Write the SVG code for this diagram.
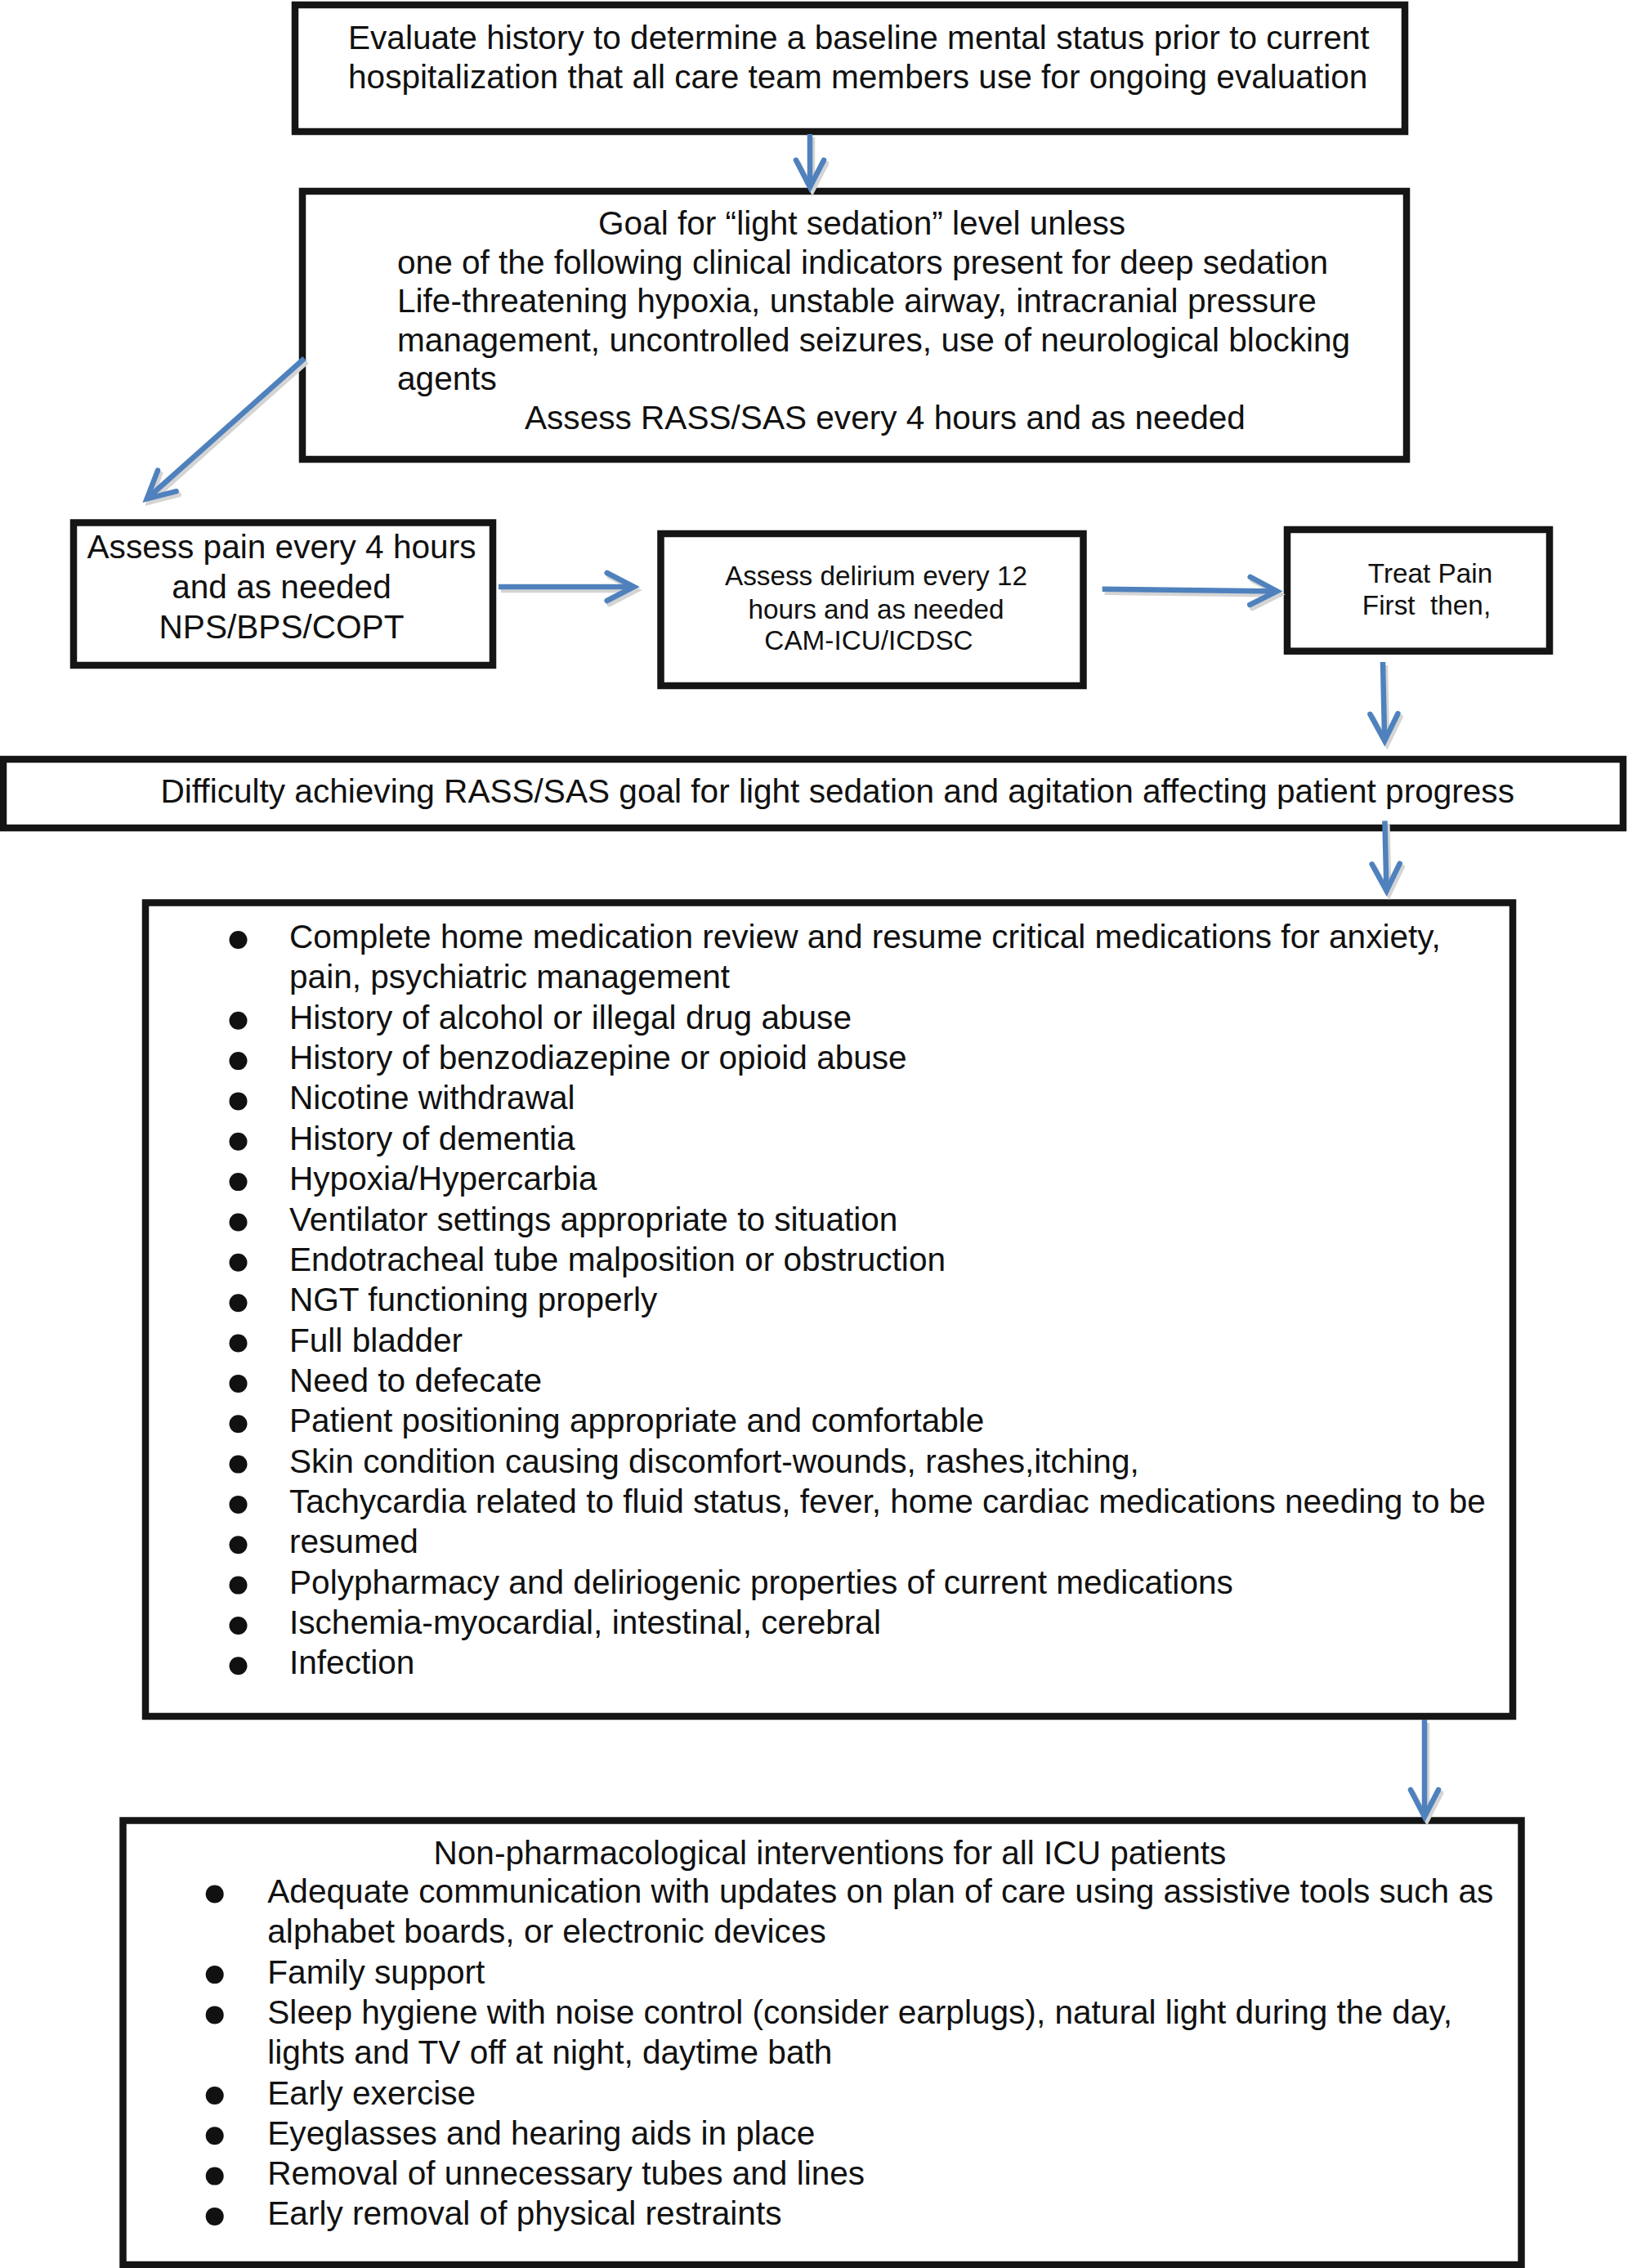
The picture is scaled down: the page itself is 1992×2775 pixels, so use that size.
<svg xmlns="http://www.w3.org/2000/svg" width="1992" height="2775" viewBox="0 0 1992 2775">
<style>
.box{fill:#ffffff;stroke:#151515;stroke-width:8.5}
text{font-family:"Liberation Sans",Arial,Helvetica,sans-serif;fill:#111111}
.t40{font-size:40.6px}
.t33{font-size:33.3px}
.mid{text-anchor:middle}
.bul{fill:#111111}
.conn{fill:none;stroke:#4F81BD;stroke-width:6.5;marker-end:url(#ah)}
.shadow{fill:none;stroke:#d4d4d4;stroke-width:6.5;marker-end:url(#ahs)}
</style>
<defs>
<marker id="ah" markerUnits="userSpaceOnUse" viewBox="-44 -24 52 48" markerWidth="52" markerHeight="48" refX="0" refY="0" orient="auto" overflow="visible">
<path d="M-33,-17 L0,0 L-33,17" fill="none" stroke="#4F81BD" stroke-width="6.5" stroke-linecap="round" stroke-linejoin="miter"/>
</marker>
<marker id="ahs" markerUnits="userSpaceOnUse" viewBox="-44 -24 52 48" markerWidth="52" markerHeight="48" refX="0" refY="0" orient="auto" overflow="visible">
<path d="M-33,-17 L0,0 L-33,17" fill="none" stroke="#d4d4d4" stroke-width="6.5" stroke-linecap="round" stroke-linejoin="miter"/>
</marker>
</defs>
<rect width="1992" height="2775" fill="#ffffff"/>

<g id="node-baseline">
<rect class="box" x="361" y="6" width="1358" height="155"/>
<text class="t40" x="426" y="60">Evaluate history to determine a baseline mental status prior to current</text>
<text class="t40" x="426" y="108">hospitalization that all care team members use for ongoing evaluation</text>
</g>

<g id="node-goal">
<rect class="box" x="370" y="234" width="1351" height="328"/>
<text class="t40" x="732" y="287">Goal for “light sedation” level unless</text>
<text class="t40" x="486" y="334.5">one of the following clinical indicators present for deep sedation</text>
<text class="t40" x="486" y="382">Life-threatening hypoxia, unstable airway, intracranial pressure</text>
<text class="t40" x="486" y="429.5">management, uncontrolled seizures, use of neurological blocking</text>
<text class="t40" x="486" y="477">agents</text>
<text class="t40" x="642" y="524.5">Assess RASS/SAS every 4 hours and as needed</text>
</g>

<g id="node-pain">
<rect class="box" x="90" y="639.5" width="513" height="174.5"/>
<text class="t40 mid" x="344.5" y="683">Assess pain every 4 hours</text>
<text class="t40 mid" x="344.5" y="732">and as needed</text>
<text class="t40 mid" x="344.5" y="780.5">NPS/BPS/COPT</text>
</g>

<g id="node-delirium">
<rect class="box" x="808.5" y="653" width="517" height="186"/>
<text class="t33 mid" x="1072" y="716">Assess delirium every 12</text>
<text class="t33 mid" x="1072" y="756.5">hours and as needed</text>
<text class="t33 mid" x="1063" y="795">CAM-ICU/ICDSC</text>
</g>

<g id="node-treat">
<rect class="box" x="1575" y="648" width="321" height="148.7"/>
<text class="t33 mid" x="1750" y="712.5">Treat Pain</text>
<text class="t33 mid" x="1745.5" y="752" xml:space="preserve">First  then,</text>
</g>

<g id="node-difficulty">
<rect class="box" x="4" y="929" width="1982" height="84"/>
<text class="t40" x="196.5" y="981.5">Difficulty achieving RASS/SAS goal for light sedation and agitation affecting patient progress</text>
</g>

<g id="node-review">
<rect class="box" x="178" y="1104.5" width="1673" height="995.5"/>
<g class="bul">
<circle cx="291.5" cy="1150" r="11"/>
<circle cx="291.5" cy="1248.7" r="11"/>
<circle cx="291.5" cy="1298.1" r="11"/>
<circle cx="291.5" cy="1347.4" r="11"/>
<circle cx="291.5" cy="1396.8" r="11"/>
<circle cx="291.5" cy="1446.1" r="11"/>
<circle cx="291.5" cy="1495.5" r="11"/>
<circle cx="291.5" cy="1544.8" r="11"/>
<circle cx="291.5" cy="1594.2" r="11"/>
<circle cx="291.5" cy="1643.5" r="11"/>
<circle cx="291.5" cy="1692.9" r="11"/>
<circle cx="291.5" cy="1742.2" r="11"/>
<circle cx="291.5" cy="1791.6" r="11"/>
<circle cx="291.5" cy="1840.9" r="11"/>
<circle cx="291.5" cy="1890.3" r="11"/>
<circle cx="291.5" cy="1939.6" r="11"/>
<circle cx="291.5" cy="1989" r="11"/>
<circle cx="291.5" cy="2038.3" r="11"/>
</g>
<text class="t40" x="354" y="1160">Complete home medication review and resume critical medications for anxiety,</text>
<text class="t40" x="354" y="1209.4">pain, psychiatric management</text>
<text class="t40" x="354" y="1258.7">History of alcohol or illegal drug abuse</text>
<text class="t40" x="354" y="1308.1">History of benzodiazepine or opioid abuse</text>
<text class="t40" x="354" y="1357.4">Nicotine withdrawal</text>
<text class="t40" x="354" y="1406.8">History of dementia</text>
<text class="t40" x="354" y="1456.1">Hypoxia/Hypercarbia</text>
<text class="t40" x="354" y="1505.5">Ventilator settings appropriate to situation</text>
<text class="t40" x="354" y="1554.8">Endotracheal tube malposition or obstruction</text>
<text class="t40" x="354" y="1604.2">NGT functioning properly</text>
<text class="t40" x="354" y="1653.5">Full bladder</text>
<text class="t40" x="354" y="1702.9">Need to defecate</text>
<text class="t40" x="354" y="1752.2">Patient positioning appropriate and comfortable</text>
<text class="t40" x="354" y="1801.6">Skin condition causing discomfort-wounds, rashes,itching,</text>
<text class="t40" x="354" y="1850.9">Tachycardia related to fluid status, fever, home cardiac medications needing to be</text>
<text class="t40" x="354" y="1900.3">resumed</text>
<text class="t40" x="354" y="1949.6">Polypharmacy and deliriogenic properties of current medications</text>
<text class="t40" x="354" y="1999">Ischemia-myocardial, intestinal, cerebral</text>
<text class="t40" x="354" y="2048.3">Infection</text>
</g>

<g id="node-nonpharm">
<rect class="box" x="150.5" y="2227.5" width="1711" height="543.5"/>
<text class="t40" x="530.5" y="2281">Non-pharmacological interventions for all ICU patients</text>
<g class="bul">
<circle cx="262.7" cy="2317.5" r="11"/>
<circle cx="262.7" cy="2416.1" r="11"/>
<circle cx="262.7" cy="2465.4" r="11"/>
<circle cx="262.7" cy="2564" r="11"/>
<circle cx="262.7" cy="2613.3" r="11"/>
<circle cx="262.7" cy="2662.6" r="11"/>
<circle cx="262.7" cy="2711.9" r="11"/>
</g>
<text class="t40" x="327.3" y="2328">Adequate communication with updates on plan of care using assistive tools such as</text>
<text class="t40" x="327.3" y="2377.3">alphabet boards, or electronic devices</text>
<text class="t40" x="327.3" y="2426.6">Family support</text>
<text class="t40" x="327.3" y="2475.9">Sleep hygiene with noise control (consider earplugs), natural light during the day,</text>
<text class="t40" x="327.3" y="2525.2">lights and TV off at night, daytime bath</text>
<text class="t40" x="327.3" y="2574.5">Early exercise</text>
<text class="t40" x="327.3" y="2623.8">Eyeglasses and hearing aids in place</text>
<text class="t40" x="327.3" y="2673.1">Removal of unnecessary tubes and lines</text>
<text class="t40" x="327.3" y="2722.4">Early removal of physical restraints</text>
</g>

<g id="connectors">
<g transform="translate(3,4)">
<path class="shadow" d="M991,164 L991,229"/>
<path class="shadow" d="M372.5,438.5 L179.7,610.3"/>
<path class="shadow" d="M610,718 L775.7,718"/>
<path class="shadow" d="M1348.7,720.7 L1562.5,723.4"/>
<path class="shadow" d="M1692,810 L1694.2,906.5"/>
<path class="shadow" d="M1694.4,1004.4 L1696.5,1090"/>
<path class="shadow" d="M1743,2104 L1743,2223"/>
</g>
<path class="conn" d="M991,164 L991,229"/>
<path class="conn" d="M372.5,438.5 L179.7,610.3"/>
<path class="conn" d="M610,718 L775.7,718"/>
<path class="conn" d="M1348.7,720.7 L1562.5,723.4"/>
<path class="conn" d="M1692,810 L1694.2,906.5"/>
<path class="conn" d="M1694.4,1004.4 L1696.5,1090"/>
<path class="conn" d="M1743,2104 L1743,2223"/>
</g>
</svg>
